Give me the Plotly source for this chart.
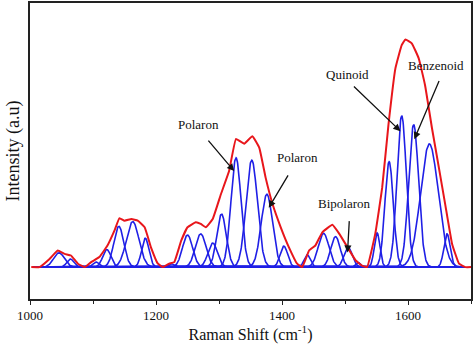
import numpy as np
import plotly.graph_objects as go

# Fitted component peaks: centre (cm-1), height (a.u.), sigma (cm-1)
peak_centers = [1046, 1064, 1105, 1122, 1141, 1163, 1183, 1224,
                1250, 1271, 1290, 1304, 1327, 1352, 1376, 1403,
                1440, 1466, 1485, 1505, 1521,
                1551, 1570, 1590, 1609, 1634, 1662]
peak_heights = [0.063, 0.036, 0.022, 0.077, 0.179, 0.20, 0.127, 0.015,
                0.141, 0.146, 0.106, 0.233, 0.48, 0.47, 0.32, 0.092,
                0.054, 0.148, 0.134, 0.087, 0.02,
                0.15, 0.463, 0.665, 0.626, 0.541, 0.146]
peak_sigmas = [8.5, 5.5, 5, 6.5, 7.9, 10, 5.8, 4,
               8, 8.5, 7.5, 7.5, 8, 9, 9, 6,
               5, 8.5, 7.5, 6.5, 4,
               4.5, 6.7, 7.4, 7.9, 14, 5]

# Measured envelope (red)
env_x = [1002, 1015, 1031, 1044, 1055, 1065, 1076, 1087, 1097, 1110, 1123, 1134,
         1142, 1150, 1161, 1171, 1182, 1192, 1203, 1211, 1221, 1229, 1240, 1250,
         1263, 1271, 1279, 1290, 1303, 1316, 1327, 1340, 1353, 1364, 1374, 1385,
         1398, 1411, 1424, 1432, 1443, 1453, 1464, 1480, 1491, 1504, 1517, 1527,
         1535, 1548, 1559, 1569, 1580, 1590, 1596, 1606, 1617, 1627, 1638, 1649,
         1659, 1670, 1681, 1691, 1700]
env_y = [0.0, 0.0, 0.036, 0.073, 0.058, 0.051, 0.015, 0.0, 0.022, 0.044, 0.095, 0.16,
         0.215, 0.204, 0.211, 0.204, 0.175, 0.087, 0.015, 0.0, 0.015, 0.022, 0.116, 0.175,
         0.197, 0.19, 0.175, 0.211, 0.32, 0.422, 0.563, 0.542, 0.575, 0.524, 0.393, 0.277,
         0.175, 0.087, 0.015, 0.0, 0.073, 0.095, 0.153, 0.186, 0.146, 0.087, 0.029, 0.007,
         0.0, 0.146, 0.349, 0.626, 0.873, 0.975, 1.0, 0.983, 0.917, 0.8, 0.611, 0.437,
         0.277, 0.102, 0.015, 0.0, 0.0]

x_ticks = [1000, 1200, 1400, 1600]

# Annotations: label, text pos, arrow tail, arrow head
ann_labels = ["Polaron", "Polaron", "Bipolaron", "Quinoid", "Benzenoid"]
ann_text_xy = [(1268, 0.627), (1425, 0.483), (1498, 0.278), (1504, 0.846), (1645, 0.885)]
ann_tail_xy = [(1280, 0.566), (1412, 0.414), (1507, 0.213), (1511, 0.802), (1651, 0.828)]
ann_head_xy = [(1324, 0.422), (1379, 0.261), (1504, 0.064), (1588, 0.597), (1610, 0.562)]

FONT = "Times New Roman, Liberation Serif, serif"
fig = go.Figure()

xs = np.linspace(1005, 1690, 1400)
for c, h, s in zip(peak_centers, peak_heights, peak_sigmas):
    fig.add_trace(go.Scatter(x=xs, y=h * np.exp(-0.5 * ((xs - c) / s) ** 2),
                             mode="lines", line=dict(color="#1f1fe6", width=1.6),
                             showlegend=False, hoverinfo="skip"))

fig.add_trace(go.Scatter(x=env_x, y=env_y, mode="lines",
                         line=dict(color="#e8161b", width=2, shape="spline", smoothing=0.3),
                         showlegend=False))

for lab, (tx, ty), (ax, ay), (hx, hy) in zip(ann_labels, ann_text_xy, ann_tail_xy, ann_head_xy):
    fig.add_annotation(x=tx, y=ty, text=lab, showarrow=False,
                       font=dict(family=FONT, size=13, color="#111"))
    fig.add_annotation(x=hx, y=hy, ax=ax, ay=ay, xref="x", yref="y", axref="x", ayref="y",
                       text=" ", showarrow=True, arrowhead=2, arrowsize=1.1, arrowwidth=1.3,
                       arrowcolor="#111", font=dict(size=2))

fig.update_layout(
    width=474, height=348,
    margin=dict(l=30, r=2, t=1, b=49),
    plot_bgcolor="white", paper_bgcolor="white",
    font=dict(family=FONT, color="#111"),
    xaxis=dict(range=[1000, 1700], tickvals=x_ticks, ticks="outside", ticklen=4,
               tickcolor="#222", showline=True, linecolor="#222", linewidth=1.5,
               mirror=True, showgrid=False, zeroline=False,
               tickfont=dict(family=FONT, size=13, color="#111"),
               minor=dict(ticks="outside", ticklen=3, dtick=100, tick0=1000, tickcolor="#222"),
               title=dict(text="Raman Shift (cm<sup>-1</sup>)", font=dict(family=FONT, size=16),
                          standoff=6)),
    yaxis=dict(range=[-0.14, 1.16], showticklabels=False, ticks="",
               showline=True, linecolor="#222", linewidth=1.5, mirror=True,
               showgrid=False, zeroline=False,
               title=dict(text="Intensity (a.u)", font=dict(family=FONT, size=18), standoff=4)),
)

fig.write_html("out.html")
